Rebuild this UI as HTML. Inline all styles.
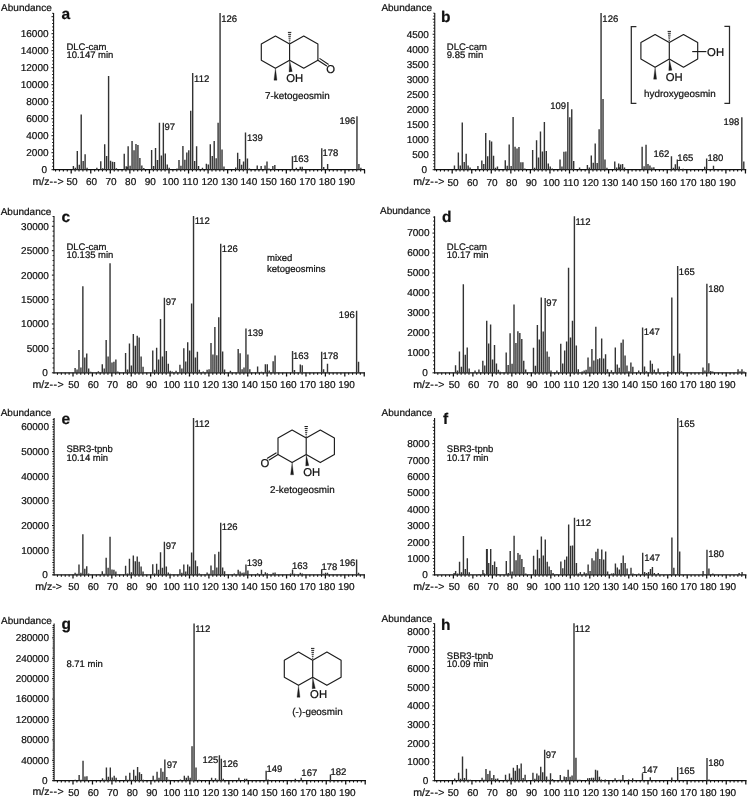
<!DOCTYPE html>
<html><head><meta charset="utf-8"><title>Mass spectra</title>
<style>
html,body{margin:0;padding:0;background:#fff}
svg{display:block}
text{font-family:"Liberation Sans",Arial,Helvetica,sans-serif;fill:#111;stroke:#111;stroke-width:0.22px;text-rendering:geometricPrecision}
.t10{font-size:10px}
.ty{font-size:10px}
.mz{font-size:10.6px}
.t9{font-size:9.5px}
.pk{font-size:9.5px}
.b{font-weight:bold;font-size:15.5px}
.ch{font-size:11.3px}
.nm{font-size:9.85px}
</style></head><body>
<svg width="748" height="799" viewBox="0 0 748 799">
<rect width="748" height="799" fill="#fff"/>
<g id="panel-a">
<path d="M53.6 13V170.3" fill="none" stroke="#111" stroke-width="1.1"/>
<path d="M53.05 169.7H365" fill="none" stroke="#111" stroke-width="1.3"/>
<path d="M52.2 166.3H53.5M52.2 162.9H53.5M52.2 159.5H53.5M52.2 156.1H53.5M52.2 149.3H53.5M52.2 145.9H53.5M52.2 142.5H53.5M52.2 139.1H53.5M52.2 132.3H53.5M52.2 128.9H53.5M52.2 125.5H53.5M52.2 122.1H53.5M52.2 115.3H53.5M52.2 111.9H53.5M52.2 108.5H53.5M52.2 105.1H53.5M52.2 98.3H53.5M52.2 94.9H53.5M52.2 91.5H53.5M52.2 88.1H53.5M52.2 81.3H53.5M52.2 77.9H53.5M52.2 74.5H53.5M52.2 71.1H53.5M52.2 64.3H53.5M52.2 60.9H53.5M52.2 57.5H53.5M52.2 54.1H53.5M52.2 47.3H53.5M52.2 43.9H53.5M52.2 40.5H53.5M52.2 37.1H53.5M52.2 30.3H53.5M52.2 26.9H53.5M52.2 23.5H53.5M52.2 20.1H53.5M52.2 13.3H53.5" stroke="#111" stroke-width="1" fill="none"/>
<path d="M51.5 16.7H53.5" stroke="#111" stroke-width="1" fill="none"/>
<text class="ty" x="47.15" y="173.1" text-anchor="end">0</text>
<text class="ty" x="48.55" y="156.1" text-anchor="end">2000</text>
<text class="ty" x="48.55" y="139.1" text-anchor="end">4000</text>
<text class="ty" x="48.55" y="122.1" text-anchor="end">6000</text>
<text class="ty" x="48.55" y="105.1" text-anchor="end">8000</text>
<text class="ty" x="48.55" y="88.1" text-anchor="end">10000</text>
<text class="ty" x="48.55" y="71.1" text-anchor="end">12000</text>
<text class="ty" x="48.55" y="54.1" text-anchor="end">14000</text>
<text class="ty" x="48.55" y="37.1" text-anchor="end">16000</text>
<path d="M51.5 169.7H53.5M51.5 152.7H53.5M51.5 135.7H53.5M51.5 118.7H53.5M51.5 101.7H53.5M51.5 84.7H53.5M51.5 67.7H53.5M51.5 50.7H53.5M51.5 33.7H53.5" stroke="#111" stroke-width="1" fill="none"/>
<path d="M55.55 169.7v1.9M59.47 169.7v1.9M63.38 169.7v1.9M67.29 169.7v1.9M75.11 169.7v1.9M79.02 169.7v1.9M82.93 169.7v1.9M86.85 169.7v1.9M94.67 169.7v1.9M98.58 169.7v1.9M102.49 169.7v1.9M106.4 169.7v1.9M114.23 169.7v1.9M118.14 169.7v1.9M122.05 169.7v1.9M125.96 169.7v1.9M133.78 169.7v1.9M137.69 169.7v1.9M141.61 169.7v1.9M145.52 169.7v1.9M153.34 169.7v1.9M157.25 169.7v1.9M161.16 169.7v1.9M165.07 169.7v1.9M172.9 169.7v1.9M176.81 169.7v1.9M180.72 169.7v1.9M184.63 169.7v1.9M192.45 169.7v1.9M196.36 169.7v1.9M200.28 169.7v1.9M204.19 169.7v1.9M212.01 169.7v1.9M215.92 169.7v1.9M219.83 169.7v1.9M223.74 169.7v1.9M231.57 169.7v1.9M235.48 169.7v1.9M239.39 169.7v1.9M243.3 169.7v1.9M251.12 169.7v1.9M255.04 169.7v1.9M258.95 169.7v1.9M262.86 169.7v1.9M270.68 169.7v1.9M274.59 169.7v1.9M278.5 169.7v1.9M282.42 169.7v1.9M290.24 169.7v1.9M294.15 169.7v1.9M298.06 169.7v1.9M301.97 169.7v1.9M309.8 169.7v1.9M313.71 169.7v1.9M317.62 169.7v1.9M321.53 169.7v1.9M329.35 169.7v1.9M333.26 169.7v1.9M337.18 169.7v1.9M341.09 169.7v1.9M348.91 169.7v1.9M352.82 169.7v1.9M356.73 169.7v1.9M360.64 169.7v1.9" stroke="#111" stroke-width="1.1" fill="none"/>
<path d="M71.2 169.7v3.7M90.76 169.7v3.7M110.31 169.7v3.7M129.87 169.7v3.7M149.43 169.7v3.7M168.99 169.7v3.7M188.54 169.7v3.7M208.1 169.7v3.7M227.66 169.7v3.7M247.21 169.7v3.7M266.77 169.7v3.7M286.33 169.7v3.7M305.88 169.7v3.7M325.44 169.7v3.7M345 169.7v3.7M364.56 169.7v3.7" stroke="#111" stroke-width="1.25" fill="none"/>
<text class="t10" x="72" y="185" text-anchor="middle">50</text>
<text class="t10" x="91.56" y="185" text-anchor="middle">60</text>
<text class="t10" x="111.11" y="185" text-anchor="middle">70</text>
<text class="t10" x="130.67" y="185" text-anchor="middle">80</text>
<text class="t10" x="150.23" y="185" text-anchor="middle">90</text>
<text class="t10" x="170.69" y="185" text-anchor="middle">100</text>
<text class="t10" x="190.24" y="185" text-anchor="middle">110</text>
<text class="t10" x="209.8" y="185" text-anchor="middle">120</text>
<text class="t10" x="229.36" y="185" text-anchor="middle">130</text>
<text class="t10" x="248.91" y="185" text-anchor="middle">140</text>
<text class="t10" x="268.47" y="185" text-anchor="middle">150</text>
<text class="t10" x="288.03" y="185" text-anchor="middle">160</text>
<text class="t10" x="307.58" y="185" text-anchor="middle">170</text>
<text class="t10" x="327.14" y="185" text-anchor="middle">180</text>
<text class="t10" x="346.7" y="185" text-anchor="middle">190</text>
<text class="mz" x="32.4" y="185">m/z-<tspan dx="0.6">-</tspan><tspan dx="0.3">&gt;</tspan></text>
<text class="t10" x="1.1" y="11.2">Abundance</text>
<text class="b" x="61.6" y="18.9">a</text>
<path d="M73.39 169.7v-3.6M75.35 169.7v-2M77.3 169.7v-18.6M79.26 169.7v-5M81.21 169.7v-55.3M83.17 169.7v-8.7M85.12 169.7v-15.4M87.08 169.7v-2M96.86 169.7v-2M100.77 169.7v-8.5M102.73 169.7v-1.5M104.68 169.7v-25.4M106.64 169.7v-13.6M108.59 169.7v-93.7M110.55 169.7v-9M112.5 169.7v-8M114.46 169.7v-7.6M116.42 169.7v-1.5M124.24 169.7v-15.9M126.19 169.7v-3.5M127.17 169.7v-3M128.15 169.7v-23.4M130.11 169.7v-3.9M132.06 169.7v-28.7M134.02 169.7v-19.4M135.97 169.7v-25.7M137.93 169.7v-24.7M139.88 169.7v-11.6M141.84 169.7v-4.3M143.8 169.7v-1.6M151.62 169.7v-19.7M153.57 169.7v-3.6M155.53 169.7v-21.7M157.49 169.7v-9.6M159.44 169.7v-47M161.4 169.7v-14.3M163.35 169.7v-47M165.31 169.7v-16.3M167.26 169.7v-5.2M169.22 169.7v-2M177.04 169.7v-1.3M179 169.7v-9.6M180.95 169.7v-3.9M182.91 169.7v-23.7M184.87 169.7v-10M186.82 169.7v-17.2M188.78 169.7v-19.4M190.73 169.7v-59M192.69 169.7v-96.6M194.64 169.7v-8.6M196.6 169.7v-23.4M198.56 169.7v-3.6M202.47 169.7v-2M206.38 169.7v-6M208.33 169.7v-5.2M210.29 169.7v-25.4M212.25 169.7v-13.6M214.2 169.7v-28.7M216.16 169.7v-11.4M218.11 169.7v-47M220.07 169.7v-156.7M222.02 169.7v-20.3M223.98 169.7v-3.2M235.71 169.7v-2.2M237.67 169.7v-17M239.62 169.7v-10.7M241.58 169.7v-4.9M243.54 169.7v-8.2M245.49 169.7v-37.3M247.45 169.7v-11.3M249.4 169.7v-1.2M257.23 169.7v-4.2M261.14 169.7v-3.7M265.05 169.7v-4.2M267 169.7v-8.2M268.96 169.7v-1.2M272.87 169.7v-3.7M274.83 169.7v-4.7M292.43 169.7v-13.5M296.34 169.7v-2M300.25 169.7v-3M302.21 169.7v-3M321.76 169.7v-21.4M323.72 169.7v-2.7M327.63 169.7v-5.6M356.97 169.7v-53.5M358.92 169.7v-5.6M360.88 169.7v-2" stroke="#333" stroke-width="1.4" fill="none"/>
<text class="pk" x="221.25" y="22.2">126</text>
<text class="pk" x="194.05" y="81.8">112</text>
<text class="pk" x="164.55" y="130.3">97</text>
<text class="pk" x="246.95" y="140.6">139</text>
<text class="pk" x="293.05" y="162.4">163</text>
<text class="pk" x="322.55" y="156">178</text>
<text class="pk" x="339.45" y="123.9">196</text>
<text class="t9" x="66.4" y="50.2">DLC-cam</text>
<text class="t9" x="66.4" y="58.3">10.147 min</text>
<path d="M289.6 44L275.45 36L261.3 44L261.3 60.2L275.45 68.2L289.6 60.2ZM289.6 44L303.75 36L317.9 44L317.9 60.2L303.75 68.2L289.6 60.2" fill="none" stroke="#1c1c1c" stroke-width="1.15" stroke-linejoin="round" stroke-linecap="round"/>
<path d="M288.98 42.07H290.22M288.77 40.13H290.43M288.55 38.2H290.65M288.33 36.27H290.87M288.12 34.33H291.08M287.9 32.4H291.3" fill="none" stroke="#1c1c1c" stroke-width="1.0"/>
<path d="M275.45 68.2L273.95 80.2H276.95Z" fill="#1c1c1c" stroke="#1c1c1c" stroke-width="0.3"/>
<path d="M289.6 60.2L289.1 71.9L292.2 71.5Z" fill="#1c1c1c" stroke="#1c1c1c" stroke-width="0.3"/>
<text class="ch" x="286.2" y="81.7">OH</text>
<path d="M317.9 60.2L326.43 65.84M319.89 58.64L328.25 64.17" fill="none" stroke="#1c1c1c" stroke-width="1.15" stroke-linecap="round"/><text class="ch" x="330.6" y="72.7" text-anchor="middle">O</text>
<text class="nm" x="265.1" y="98.7">7-ketogeosmin</text>
</g>
<g id="panel-b">
<path d="M434.75 13V170.3" fill="none" stroke="#111" stroke-width="1.1"/>
<path d="M434.2 169.7H746.23" fill="none" stroke="#111" stroke-width="1.3"/>
<path d="M433.35 166.69H434.65M433.35 163.68H434.65M433.35 160.67H434.65M433.35 157.66H434.65M433.35 151.64H434.65M433.35 148.63H434.65M433.35 145.62H434.65M433.35 142.61H434.65M433.35 136.59H434.65M433.35 133.58H434.65M433.35 130.57H434.65M433.35 127.56H434.65M433.35 121.54H434.65M433.35 118.53H434.65M433.35 115.52H434.65M433.35 112.51H434.65M433.35 106.49H434.65M433.35 103.48H434.65M433.35 100.47H434.65M433.35 97.46H434.65M433.35 91.44H434.65M433.35 88.43H434.65M433.35 85.42H434.65M433.35 82.41H434.65M433.35 76.39H434.65M433.35 73.38H434.65M433.35 70.37H434.65M433.35 67.36H434.65M433.35 61.34H434.65M433.35 58.33H434.65M433.35 55.32H434.65M433.35 52.31H434.65M433.35 46.29H434.65M433.35 43.28H434.65M433.35 40.27H434.65M433.35 37.26H434.65M433.35 31.24H434.65M433.35 28.23H434.65M433.35 25.22H434.65M433.35 22.21H434.65M433.35 16.19H434.65M433.35 13.18H434.65" stroke="#111" stroke-width="1" fill="none"/>
<path d="M432.65 19.2H434.65" stroke="#111" stroke-width="1" fill="none"/>
<text class="ty" x="427.05" y="173.1" text-anchor="end">0</text>
<text class="ty" x="428.95" y="158.05" text-anchor="end">500</text>
<text class="ty" x="428.95" y="143" text-anchor="end">1000</text>
<text class="ty" x="428.95" y="127.95" text-anchor="end">1500</text>
<text class="ty" x="428.95" y="112.9" text-anchor="end">2000</text>
<text class="ty" x="428.95" y="97.85" text-anchor="end">2500</text>
<text class="ty" x="428.95" y="82.8" text-anchor="end">3000</text>
<text class="ty" x="428.95" y="67.75" text-anchor="end">3500</text>
<text class="ty" x="428.95" y="52.7" text-anchor="end">4000</text>
<text class="ty" x="428.95" y="37.65" text-anchor="end">4500</text>
<path d="M432.65 169.7H434.65M432.65 154.65H434.65M432.65 139.6H434.65M432.65 124.55H434.65M432.65 109.5H434.65M432.65 94.45H434.65M432.65 79.4H434.65M432.65 64.35H434.65M432.65 49.3H434.65M432.65 34.25H434.65" stroke="#111" stroke-width="1" fill="none"/>
<path d="M436.56 169.7v1.9M440.47 169.7v1.9M444.38 169.7v1.9M448.29 169.7v1.9M456.11 169.7v1.9M460.02 169.7v1.9M463.93 169.7v1.9M467.84 169.7v1.9M475.66 169.7v1.9M479.57 169.7v1.9M483.48 169.7v1.9M487.39 169.7v1.9M495.21 169.7v1.9M499.12 169.7v1.9M503.03 169.7v1.9M506.94 169.7v1.9M514.76 169.7v1.9M518.67 169.7v1.9M522.58 169.7v1.9M526.49 169.7v1.9M534.31 169.7v1.9M538.22 169.7v1.9M542.13 169.7v1.9M546.04 169.7v1.9M553.86 169.7v1.9M557.77 169.7v1.9M561.68 169.7v1.9M565.59 169.7v1.9M573.41 169.7v1.9M577.32 169.7v1.9M581.23 169.7v1.9M585.14 169.7v1.9M592.96 169.7v1.9M596.87 169.7v1.9M600.78 169.7v1.9M604.69 169.7v1.9M612.51 169.7v1.9M616.42 169.7v1.9M620.33 169.7v1.9M624.24 169.7v1.9M632.06 169.7v1.9M635.97 169.7v1.9M639.88 169.7v1.9M643.79 169.7v1.9M651.61 169.7v1.9M655.52 169.7v1.9M659.43 169.7v1.9M663.34 169.7v1.9M671.16 169.7v1.9M675.07 169.7v1.9M678.98 169.7v1.9M682.89 169.7v1.9M690.71 169.7v1.9M694.62 169.7v1.9M698.53 169.7v1.9M702.44 169.7v1.9M710.26 169.7v1.9M714.17 169.7v1.9M718.08 169.7v1.9M721.99 169.7v1.9M729.81 169.7v1.9M733.72 169.7v1.9M737.63 169.7v1.9M741.54 169.7v1.9" stroke="#111" stroke-width="1.1" fill="none"/>
<path d="M452.2 169.7v3.7M471.75 169.7v3.7M491.3 169.7v3.7M510.85 169.7v3.7M530.4 169.7v3.7M549.95 169.7v3.7M569.5 169.7v3.7M589.05 169.7v3.7M608.6 169.7v3.7M628.15 169.7v3.7M647.7 169.7v3.7M667.25 169.7v3.7M686.8 169.7v3.7M706.35 169.7v3.7M725.9 169.7v3.7M745.45 169.7v3.7" stroke="#111" stroke-width="1.25" fill="none"/>
<text class="t10" x="453" y="186" text-anchor="middle">50</text>
<text class="t10" x="472.55" y="186" text-anchor="middle">60</text>
<text class="t10" x="492.1" y="186" text-anchor="middle">70</text>
<text class="t10" x="511.65" y="186" text-anchor="middle">80</text>
<text class="t10" x="531.2" y="186" text-anchor="middle">90</text>
<text class="t10" x="551.45" y="186" text-anchor="middle">100</text>
<text class="t10" x="571" y="186" text-anchor="middle">110</text>
<text class="t10" x="590.55" y="186" text-anchor="middle">120</text>
<text class="t10" x="610.1" y="186" text-anchor="middle">130</text>
<text class="t10" x="629.65" y="186" text-anchor="middle">140</text>
<text class="t10" x="649.2" y="186" text-anchor="middle">150</text>
<text class="t10" x="668.75" y="186" text-anchor="middle">160</text>
<text class="t10" x="688.3" y="186" text-anchor="middle">170</text>
<text class="t10" x="707.85" y="186" text-anchor="middle">180</text>
<text class="t10" x="727.4" y="186" text-anchor="middle">190</text>
<text class="mz" x="413.2" y="185">m/z-<tspan dx="0.6">-</tspan><tspan dx="0.3">&gt;</tspan></text>
<text class="t10" x="381.4" y="11.2">Abundance</text>
<text class="b" x="440.9" y="22.1">b</text>
<path d="M454.45 169.7v-4.3M458.36 169.7v-17.1M460.31 169.7v-4.3M462.27 169.7v-47.1M464.22 169.7v-7.8M466.18 169.7v-16M468.13 169.7v-4.3M470.09 169.7v-2.2M477.91 169.7v-3.7M481.82 169.7v-9.1M483.77 169.7v-5.6M485.73 169.7v-36.8M487.68 169.7v-13.4M489.64 169.7v-29.4M491.59 169.7v-28.2M493.55 169.7v-14M495.5 169.7v-2M497.46 169.7v-3.1M505.28 169.7v-9.4M507.23 169.7v-3.9M509.19 169.7v-25.3M511.14 169.7v-3.6M513.1 169.7v-52.8M515.05 169.7v-23M517.01 169.7v-21.3M518.96 169.7v-22.6M520.92 169.7v-7.4M522.87 169.7v-7.4M524.83 169.7v-1.2M532.65 169.7v-19.7M534.6 169.7v-2M536.56 169.7v-29.4M538.51 169.7v-12.3M540.47 169.7v-38.1M542.42 169.7v-18.3M544.38 169.7v-47.7M546.33 169.7v-18.7M548.29 169.7v-6.3M550.24 169.7v-3.2M552.2 169.7v-1.3M560.02 169.7v-10.3M561.97 169.7v-3.2M563.93 169.7v-17.9M565.88 169.7v-18.3M567.84 169.7v-67.8M569.79 169.7v-52.4M571.75 169.7v-60.4M573.7 169.7v-8.6M579.57 169.7v-2.3M587.39 169.7v-4.7M589.34 169.7v-2.3M591.3 169.7v-14.3M593.25 169.7v-7M595.21 169.7v-26.3M597.16 169.7v-6.7M599.12 169.7v-40.4M601.07 169.7v-156.7M603.03 169.7v-70.7M604.98 169.7v-10.3M606.94 169.7v-2M614.76 169.7v-8.3M616.71 169.7v-2.3M618.67 169.7v-6.3M619.84 169.7v-2.5M620.62 169.7v-5.2M622.58 169.7v-5.6M624.53 169.7v-2.3M642.13 169.7v-23M644.08 169.7v-3.5M646.04 169.7v-25M647.99 169.7v-5.6M649.95 169.7v-4.3M651.9 169.7v-2.3M653.86 169.7v-2.5M671.45 169.7v-13.5M673.41 169.7v-2M675.36 169.7v-5.5M677.32 169.7v-10.3M679.27 169.7v-3.1M683.18 169.7v-1M704.69 169.7v-3M706.64 169.7v-11.1M713.49 169.7v-4M741.83 169.7v-52.4M743.79 169.7v-8.3" stroke="#333" stroke-width="1.4" fill="none"/>
<text class="pk" x="602.35" y="22.2">126</text>
<text class="pk" x="550.25" y="109.3">109</text>
<text class="pk" x="653.45" y="157">162</text>
<text class="pk" x="677.35" y="161.1">165</text>
<text class="pk" x="707.45" y="161.1">180</text>
<text class="pk" x="723.55" y="124.6">198</text>
<text class="t9" x="446.8" y="50.1">DLC-cam</text>
<text class="t9" x="446.8" y="58.3">9.85 min</text>
<path d="M669.3 42.6L655.1 34.5L640.9 42.6L640.9 59.1L655.1 67.2L669.3 59.1ZM669.3 42.6L683.5 34.5L697.7 42.6L697.7 59.1L683.5 67.2L669.3 59.1" fill="none" stroke="#1c1c1c" stroke-width="1.15" stroke-linejoin="round" stroke-linecap="round"/>
<path d="M668.68 40.73H669.92M668.47 38.87H670.13M668.25 37H670.35M668.03 35.13H670.57M667.82 33.27H670.78M667.6 31.4H671" fill="none" stroke="#1c1c1c" stroke-width="1.0"/>
<path d="M655.1 67.2L653.6 79.2H656.6Z" fill="#1c1c1c" stroke="#1c1c1c" stroke-width="0.3"/>
<path d="M669.3 59.1L668.8 70.6L671.9 70.2Z" fill="#1c1c1c" stroke="#1c1c1c" stroke-width="0.3"/>
<text class="ch" x="665.7" y="80.8">OH</text>
<path d="M692.2 51.6H706.4" fill="none" stroke="#1c1c1c" stroke-width="1.15"/><text class="ch" x="707.1" y="55.9">OH</text><path d="M636.4 26.5H631.3V103.3H636.4M724.4 26.3H729.5V103.3H724.4" fill="none" stroke="#2a2a2a" stroke-width="1.25"/>
<text class="nm" x="644.1" y="96.8">hydroxygeosmin</text>
</g>
<g id="panel-c">
<path d="M54 216V373.4" fill="none" stroke="#111" stroke-width="1.1"/>
<path d="M53.45 372.8H365" fill="none" stroke="#111" stroke-width="1.3"/>
<path d="M52.6 367.92H53.9M52.6 363.03H53.9M52.6 358.15H53.9M52.6 353.26H53.9M52.6 343.5H53.9M52.6 338.61H53.9M52.6 333.73H53.9M52.6 328.84H53.9M52.6 319.08H53.9M52.6 314.19H53.9M52.6 309.31H53.9M52.6 304.42H53.9M52.6 294.66H53.9M52.6 289.77H53.9M52.6 284.89H53.9M52.6 280H53.9M52.6 270.24H53.9M52.6 265.35H53.9M52.6 260.47H53.9M52.6 255.58H53.9M52.6 245.82H53.9M52.6 240.93H53.9M52.6 236.05H53.9M52.6 231.16H53.9M52.6 221.4H53.9M52.6 216.51H53.9" stroke="#111" stroke-width="1" fill="none"/>
<text class="ty" x="47.9" y="376.2" text-anchor="end">0</text>
<text class="ty" x="48.9" y="351.78" text-anchor="end">5000</text>
<text class="ty" x="48.9" y="327.36" text-anchor="end">10000</text>
<text class="ty" x="48.9" y="302.94" text-anchor="end">15000</text>
<text class="ty" x="48.9" y="278.52" text-anchor="end">20000</text>
<text class="ty" x="48.9" y="254.1" text-anchor="end">25000</text>
<text class="ty" x="48.9" y="229.68" text-anchor="end">30000</text>
<path d="M51.9 372.8H53.9M51.9 348.38H53.9M51.9 323.96H53.9M51.9 299.54H53.9M51.9 275.12H53.9M51.9 250.7H53.9M51.9 226.28H53.9" stroke="#111" stroke-width="1" fill="none"/>
<path d="M57.47 372.8v1.9M61.35 372.8v1.9M65.23 372.8v1.9M69.12 372.8v1.9M76.88 372.8v1.9M80.77 372.8v1.9M84.65 372.8v1.9M88.53 372.8v1.9M96.3 372.8v1.9M100.18 372.8v1.9M104.06 372.8v1.9M107.95 372.8v1.9M115.71 372.8v1.9M119.6 372.8v1.9M123.48 372.8v1.9M127.36 372.8v1.9M135.13 372.8v1.9M139.01 372.8v1.9M142.89 372.8v1.9M146.78 372.8v1.9M154.54 372.8v1.9M158.43 372.8v1.9M162.31 372.8v1.9M166.19 372.8v1.9M173.96 372.8v1.9M177.84 372.8v1.9M181.72 372.8v1.9M185.61 372.8v1.9M193.37 372.8v1.9M197.26 372.8v1.9M201.14 372.8v1.9M205.02 372.8v1.9M212.79 372.8v1.9M216.67 372.8v1.9M220.55 372.8v1.9M224.44 372.8v1.9M232.2 372.8v1.9M236.09 372.8v1.9M239.97 372.8v1.9M243.85 372.8v1.9M251.62 372.8v1.9M255.5 372.8v1.9M259.38 372.8v1.9M263.27 372.8v1.9M271.03 372.8v1.9M274.92 372.8v1.9M278.8 372.8v1.9M282.68 372.8v1.9M290.45 372.8v1.9M294.33 372.8v1.9M298.21 372.8v1.9M302.1 372.8v1.9M309.86 372.8v1.9M313.75 372.8v1.9M317.63 372.8v1.9M321.51 372.8v1.9M329.28 372.8v1.9M333.16 372.8v1.9M337.04 372.8v1.9M340.93 372.8v1.9M348.69 372.8v1.9M352.58 372.8v1.9M356.46 372.8v1.9M360.34 372.8v1.9" stroke="#111" stroke-width="1.1" fill="none"/>
<path d="M73 372.8v3.7M92.41 372.8v3.7M111.83 372.8v3.7M131.25 372.8v3.7M150.66 372.8v3.7M170.07 372.8v3.7M189.49 372.8v3.7M208.91 372.8v3.7M228.32 372.8v3.7M247.74 372.8v3.7M267.15 372.8v3.7M286.56 372.8v3.7M305.98 372.8v3.7M325.39 372.8v3.7M344.81 372.8v3.7M364.23 372.8v3.7" stroke="#111" stroke-width="1.25" fill="none"/>
<text class="t10" x="73.8" y="388" text-anchor="middle">50</text>
<text class="t10" x="93.21" y="388" text-anchor="middle">60</text>
<text class="t10" x="112.63" y="388" text-anchor="middle">70</text>
<text class="t10" x="132.05" y="388" text-anchor="middle">80</text>
<text class="t10" x="151.46" y="388" text-anchor="middle">90</text>
<text class="t10" x="171.82" y="388" text-anchor="middle">100</text>
<text class="t10" x="191.24" y="388" text-anchor="middle">110</text>
<text class="t10" x="210.66" y="388" text-anchor="middle">120</text>
<text class="t10" x="230.07" y="388" text-anchor="middle">130</text>
<text class="t10" x="249.49" y="388" text-anchor="middle">140</text>
<text class="t10" x="268.9" y="388" text-anchor="middle">150</text>
<text class="t10" x="288.31" y="388" text-anchor="middle">160</text>
<text class="t10" x="307.73" y="388" text-anchor="middle">170</text>
<text class="t10" x="327.14" y="388" text-anchor="middle">180</text>
<text class="t10" x="346.56" y="388" text-anchor="middle">190</text>
<text class="mz" x="32.4" y="388">m/z-<tspan dx="0.6">-</tspan><tspan dx="0.3">&gt;</tspan></text>
<text class="t10" x="0.7" y="214.5">Abundance</text>
<text class="b" x="61.6" y="222.2">c</text>
<path d="M75.1 372.8v-4.9M77.04 372.8v-3.2M78.98 372.8v-22.7M80.92 372.8v-5.2M82.86 372.8v-86.5M84.8 372.8v-15.4M86.75 372.8v-19.4M88.69 372.8v-4.3M90.63 372.8v-1M98.39 372.8v-1.6M102.28 372.8v-8.6M104.22 372.8v-4.3M106.16 372.8v-32.8M108.1 372.8v-16.3M110.04 372.8v-109.5M111.99 372.8v-10.3M113.93 372.8v-11M115.87 372.8v-13.2M117.81 372.8v-1.2M125.58 372.8v-19.9M127.52 372.8v-3.3M129.46 372.8v-29.4M131.4 372.8v-7.4M133.34 372.8v-38.8M135.28 372.8v-27M137.22 372.8v-37M139.17 372.8v-35.3M141.11 372.8v-16.3M143.05 372.8v-6.1M152.76 372.8v-22.3M154.7 372.8v-3M156.64 372.8v-25M158.58 372.8v-13.2M160.52 372.8v-53.7M162.46 372.8v-16.3M164.41 372.8v-75.1M166.35 372.8v-21.7M168.29 372.8v-9M170.23 372.8v-2M172.17 372.8v-1.3M176.05 372.8v-2M179.94 372.8v-8M181.88 372.8v-4.3M183.82 372.8v-24.6M185.76 372.8v-11.4M187.7 372.8v-30.6M189.65 372.8v-22.3M191.59 372.8v-69.4M193.53 372.8v-156.8M195.47 372.8v-15.4M197.41 372.8v-21M199.35 372.8v-3M203.24 372.8v-1.3M207.12 372.8v-3M209.06 372.8v-3.6M211 372.8v-29.7M212.94 372.8v-18.3M214.88 372.8v-45.7M216.83 372.8v-17.6M218.77 372.8v-55.5M220.71 372.8v-129M222.65 372.8v-21.3M224.59 372.8v-3.2M230.42 372.8v-2M238.18 372.8v-23.7M240.12 372.8v-19.5M242.07 372.8v-3.6M244.01 372.8v-5.2M245.95 372.8v-44.4M247.89 372.8v-18.3M249.83 372.8v-3.6M257.6 372.8v-6.3M261.48 372.8v-1M265.36 372.8v-8.6M267.31 372.8v-8.6M269.25 372.8v-2.3M273.13 372.8v-11.6M275.07 372.8v-17.3M292.54 372.8v-21.7M294.49 372.8v-2.8M300.31 372.8v-8.3M302.25 372.8v-7.6M321.67 372.8v-21M323.61 372.8v-3.6M327.49 372.8v-9M356.61 372.8v-62M358.56 372.8v-11" stroke="#333" stroke-width="1.4" fill="none"/>
<text class="pk" x="194.65" y="224">112</text>
<text class="pk" x="221.85" y="252.3">126</text>
<text class="pk" x="165.65" y="305">97</text>
<text class="pk" x="247.45" y="335.7">139</text>
<text class="pk" x="293.05" y="359.3">163</text>
<text class="pk" x="322.55" y="359.3">178</text>
<text class="pk" x="338.85" y="318.1">196</text>
<text class="t9" x="66.4" y="250">DLC-cam</text>
<text class="t9" x="66.4" y="258.3">10.135 min</text>
<text class="t9" x="267" y="261">mixed</text>
<text class="t9" x="267" y="271.7">ketogeosmins</text>
</g>
<g id="panel-d">
<path d="M434.6 216.2V373.4" fill="none" stroke="#111" stroke-width="1.1"/>
<path d="M434.05 372.8H746.44" fill="none" stroke="#111" stroke-width="1.3"/>
<path d="M433.2 368.81H434.5M433.2 364.82H434.5M433.2 360.82H434.5M433.2 356.83H434.5M433.2 348.85H434.5M433.2 344.86H434.5M433.2 340.86H434.5M433.2 336.87H434.5M433.2 328.89H434.5M433.2 324.9H434.5M433.2 320.9H434.5M433.2 316.91H434.5M433.2 308.93H434.5M433.2 304.94H434.5M433.2 300.94H434.5M433.2 296.95H434.5M433.2 288.97H434.5M433.2 284.98H434.5M433.2 280.98H434.5M433.2 276.99H434.5M433.2 269.01H434.5M433.2 265.02H434.5M433.2 261.02H434.5M433.2 257.03H434.5M433.2 249.05H434.5M433.2 245.06H434.5M433.2 241.06H434.5M433.2 237.07H434.5M433.2 229.09H434.5M433.2 225.1H434.5M433.2 221.1H434.5M433.2 217.11H434.5" stroke="#111" stroke-width="1" fill="none"/>
<text class="ty" x="427.8" y="376.2" text-anchor="end">0</text>
<text class="ty" x="429.5" y="356.24" text-anchor="end">1000</text>
<text class="ty" x="429.5" y="336.28" text-anchor="end">2000</text>
<text class="ty" x="429.5" y="316.32" text-anchor="end">3000</text>
<text class="ty" x="429.5" y="296.36" text-anchor="end">4000</text>
<text class="ty" x="429.5" y="276.4" text-anchor="end">5000</text>
<text class="ty" x="429.5" y="256.44" text-anchor="end">6000</text>
<text class="ty" x="429.5" y="236.48" text-anchor="end">7000</text>
<path d="M432.5 372.8H434.5M432.5 352.84H434.5M432.5 332.88H434.5M432.5 312.92H434.5M432.5 292.96H434.5M432.5 273H434.5M432.5 253.04H434.5M432.5 233.08H434.5" stroke="#111" stroke-width="1" fill="none"/>
<path d="M437.81 372.8v1.9M441.71 372.8v1.9M445.61 372.8v1.9M449.5 372.8v1.9M457.3 372.8v1.9M461.19 372.8v1.9M465.09 372.8v1.9M468.99 372.8v1.9M476.78 372.8v1.9M480.68 372.8v1.9M484.57 372.8v1.9M488.47 372.8v1.9M496.26 372.8v1.9M500.16 372.8v1.9M504.06 372.8v1.9M507.96 372.8v1.9M515.75 372.8v1.9M519.65 372.8v1.9M523.54 372.8v1.9M527.44 372.8v1.9M535.23 372.8v1.9M539.13 372.8v1.9M543.03 372.8v1.9M546.92 372.8v1.9M554.72 372.8v1.9M558.61 372.8v1.9M562.51 372.8v1.9M566.41 372.8v1.9M574.2 372.8v1.9M578.1 372.8v1.9M581.99 372.8v1.9M585.89 372.8v1.9M593.68 372.8v1.9M597.58 372.8v1.9M601.48 372.8v1.9M605.38 372.8v1.9M613.17 372.8v1.9M617.07 372.8v1.9M620.96 372.8v1.9M624.86 372.8v1.9M632.65 372.8v1.9M636.55 372.8v1.9M640.45 372.8v1.9M644.34 372.8v1.9M652.14 372.8v1.9M656.03 372.8v1.9M659.93 372.8v1.9M663.83 372.8v1.9M671.62 372.8v1.9M675.52 372.8v1.9M679.41 372.8v1.9M683.31 372.8v1.9M691.1 372.8v1.9M695 372.8v1.9M698.9 372.8v1.9M702.8 372.8v1.9M710.59 372.8v1.9M714.49 372.8v1.9M718.38 372.8v1.9M722.28 372.8v1.9M730.07 372.8v1.9M733.97 372.8v1.9M737.87 372.8v1.9M741.76 372.8v1.9" stroke="#111" stroke-width="1.1" fill="none"/>
<path d="M453.4 372.8v3.7M472.88 372.8v3.7M492.37 372.8v3.7M511.85 372.8v3.7M531.34 372.8v3.7M550.82 372.8v3.7M570.3 372.8v3.7M589.79 372.8v3.7M609.27 372.8v3.7M628.76 372.8v3.7M648.24 372.8v3.7M667.72 372.8v3.7M687.21 372.8v3.7M706.69 372.8v3.7M726.18 372.8v3.7M745.66 372.8v3.7" stroke="#111" stroke-width="1.25" fill="none"/>
<text class="t10" x="454.2" y="388" text-anchor="middle">50</text>
<text class="t10" x="473.68" y="388" text-anchor="middle">60</text>
<text class="t10" x="493.17" y="388" text-anchor="middle">70</text>
<text class="t10" x="512.65" y="388" text-anchor="middle">80</text>
<text class="t10" x="532.14" y="388" text-anchor="middle">90</text>
<text class="t10" x="551.82" y="388" text-anchor="middle">100</text>
<text class="t10" x="571.3" y="388" text-anchor="middle">110</text>
<text class="t10" x="590.79" y="388" text-anchor="middle">120</text>
<text class="t10" x="610.27" y="388" text-anchor="middle">130</text>
<text class="t10" x="629.76" y="388" text-anchor="middle">140</text>
<text class="t10" x="649.24" y="388" text-anchor="middle">150</text>
<text class="t10" x="668.72" y="388" text-anchor="middle">160</text>
<text class="t10" x="688.21" y="388" text-anchor="middle">170</text>
<text class="t10" x="707.69" y="388" text-anchor="middle">180</text>
<text class="t10" x="727.18" y="388" text-anchor="middle">190</text>
<text class="mz" x="413.2" y="388">m/z-<tspan dx="0.6">-</tspan><tspan dx="0.3">&gt;</tspan></text>
<text class="t10" x="380" y="214.3">Abundance</text>
<text class="b" x="441.9" y="222.2">d</text>
<path d="M455.54 372.8v-7.6M457.49 372.8v-2.3M459.44 372.8v-21.3M461.39 372.8v-6M463.34 372.8v-88.5M465.29 372.8v-18M467.23 372.8v-25.3M469.18 372.8v-4.3M475.03 372.8v-2.3M478.92 372.8v-3.2M482.82 372.8v-12M484.77 372.8v-7.2M486.72 372.8v-52.1M488.67 372.8v-29.3M490.61 372.8v-48.4M492.56 372.8v-13.2M494.51 372.8v-27.7M496.46 372.8v-9.2M498.41 372.8v-3M500.36 372.8v-1M506.2 372.8v-20.3M508.15 372.8v-7.9M510.1 372.8v-39.5M512.05 372.8v-9M514 372.8v-68.3M515.94 372.8v-29.7M517.89 372.8v-41.5M519.84 372.8v-39.8M521.79 372.8v-33.7M523.74 372.8v-12M525.69 372.8v-3.2M533.48 372.8v-25M535.43 372.8v-7M537.38 372.8v-47.7M539.32 372.8v-33.3M541.27 372.8v-75.4M543.22 372.8v-41.3M545.17 372.8v-74.7M547.12 372.8v-21.4M549.07 372.8v-16M551.01 372.8v-2.3M556.86 372.8v-2.3M560.76 372.8v-29M562.71 372.8v-9.4M564.65 372.8v-22.3M566.6 372.8v-31.4M568.55 372.8v-105M570.5 372.8v-35.3M572.45 372.8v-52M574.4 372.8v-156.6M576.34 372.8v-27.4M578.29 372.8v-3.6M582.19 372.8v-1.3M584.14 372.8v-2.3M586.09 372.8v-3M588.03 372.8v-15.4M589.98 372.8v-6M591.93 372.8v-23.7M593.88 372.8v-12.3M595.83 372.8v-46M597.78 372.8v-13.6M599.72 372.8v-14.6M601.67 372.8v-34.4M603.62 372.8v-14.3M605.57 372.8v-18.6M607.52 372.8v-3.6M611.42 372.8v-2.5M615.31 372.8v-25.4M617.26 372.8v-8.3M619.21 372.8v-5M621.16 372.8v-30M623.11 372.8v-33.4M625.05 372.8v-17.4M627 372.8v-7.2M628.95 372.8v-1.5M630.9 372.8v-10.3M632.85 372.8v-6M638.69 372.8v-2.3M642.59 372.8v-45.3M644.54 372.8v-6.3M646.49 372.8v-1.6M650.38 372.8v-12.3M652.33 372.8v-9.1M654.28 372.8v-3.1M658.18 372.8v-4.4M667.92 372.8v-1.6M671.82 372.8v-75.2M673.76 372.8v-17.1M677.66 372.8v-106.7M679.61 372.8v-19.2M681.56 372.8v-1.6M702.99 372.8v-5.3M704.94 372.8v-2.3M706.89 372.8v-89M708.84 372.8v-9.6M710.78 372.8v-1.9M712.73 372.8v-1.2M738.06 372.8v-3.6M740.01 372.8v-1.6M741.96 372.8v-3.6M743.91 372.8v-1.2" stroke="#333" stroke-width="1.4" fill="none"/>
<text class="pk" x="575.45" y="224.7">112</text>
<text class="pk" x="546.35" y="305.6">97</text>
<text class="pk" x="643.85" y="335.1">147</text>
<text class="pk" x="678.85" y="274.6">165</text>
<text class="pk" x="708.25" y="291.6">180</text>
<text class="t9" x="446.8" y="250">DLC-cam</text>
<text class="t9" x="446.8" y="258.3">10.17 min</text>
</g>
<g id="panel-e">
<path d="M54.1 418V575.45" fill="none" stroke="#111" stroke-width="1.1"/>
<path d="M53.55 574.85H365" fill="none" stroke="#111" stroke-width="1.3"/>
<path d="M52.7 572.38H54M52.7 569.92H54M52.7 567.45H54M52.7 564.99H54M52.7 560.06H54M52.7 557.59H54M52.7 555.13H54M52.7 552.66H54M52.7 547.73H54M52.7 545.27H54M52.7 542.8H54M52.7 540.34H54M52.7 535.41H54M52.7 532.94H54M52.7 530.48H54M52.7 528.01H54M52.7 523.08H54M52.7 520.62H54M52.7 518.15H54M52.7 515.69H54M52.7 510.76H54M52.7 508.29H54M52.7 505.83H54M52.7 503.36H54M52.7 498.43H54M52.7 495.97H54M52.7 493.5H54M52.7 491.04H54M52.7 486.11H54M52.7 483.64H54M52.7 481.18H54M52.7 478.71H54M52.7 473.78H54M52.7 471.32H54M52.7 468.85H54M52.7 466.39H54M52.7 461.46H54M52.7 458.99H54M52.7 456.53H54M52.7 454.06H54M52.7 449.13H54M52.7 446.67H54M52.7 444.2H54M52.7 441.74H54M52.7 436.81H54M52.7 434.35H54M52.7 431.88H54M52.7 429.42H54M52.7 424.49H54M52.7 422.02H54M52.7 419.56H54" stroke="#111" stroke-width="1" fill="none"/>
<path d="M52.3 562.52H54M52.3 537.87H54M52.3 513.22H54M52.3 488.57H54M52.3 463.92H54M52.3 439.27H54" stroke="#111" stroke-width="1" fill="none"/>
<text class="ty" x="47.7" y="578.25" text-anchor="end">0</text>
<text class="ty" x="49" y="553.6" text-anchor="end">10000</text>
<text class="ty" x="49" y="528.95" text-anchor="end">20000</text>
<text class="ty" x="49" y="504.3" text-anchor="end">30000</text>
<text class="ty" x="49" y="479.65" text-anchor="end">40000</text>
<text class="ty" x="49" y="455" text-anchor="end">50000</text>
<text class="ty" x="49" y="430.35" text-anchor="end">60000</text>
<path d="M52 574.85H54M52 550.2H54M52 525.55H54M52 500.9H54M52 476.25H54M52 451.6H54M52 426.95H54" stroke="#111" stroke-width="1" fill="none"/>
<path d="M57.47 574.85v1.9M61.35 574.85v1.9M65.23 574.85v1.9M69.12 574.85v1.9M76.88 574.85v1.9M80.77 574.85v1.9M84.65 574.85v1.9M88.53 574.85v1.9M96.3 574.85v1.9M100.18 574.85v1.9M104.06 574.85v1.9M107.95 574.85v1.9M115.71 574.85v1.9M119.6 574.85v1.9M123.48 574.85v1.9M127.36 574.85v1.9M135.13 574.85v1.9M139.01 574.85v1.9M142.89 574.85v1.9M146.78 574.85v1.9M154.54 574.85v1.9M158.43 574.85v1.9M162.31 574.85v1.9M166.19 574.85v1.9M173.96 574.85v1.9M177.84 574.85v1.9M181.72 574.85v1.9M185.61 574.85v1.9M193.37 574.85v1.9M197.26 574.85v1.9M201.14 574.85v1.9M205.02 574.85v1.9M212.79 574.85v1.9M216.67 574.85v1.9M220.55 574.85v1.9M224.44 574.85v1.9M232.2 574.85v1.9M236.09 574.85v1.9M239.97 574.85v1.9M243.85 574.85v1.9M251.62 574.85v1.9M255.5 574.85v1.9M259.38 574.85v1.9M263.27 574.85v1.9M271.03 574.85v1.9M274.92 574.85v1.9M278.8 574.85v1.9M282.68 574.85v1.9M290.45 574.85v1.9M294.33 574.85v1.9M298.21 574.85v1.9M302.1 574.85v1.9M309.86 574.85v1.9M313.75 574.85v1.9M317.63 574.85v1.9M321.51 574.85v1.9M329.28 574.85v1.9M333.16 574.85v1.9M337.04 574.85v1.9M340.93 574.85v1.9M348.69 574.85v1.9M352.58 574.85v1.9M356.46 574.85v1.9M360.34 574.85v1.9" stroke="#111" stroke-width="1.1" fill="none"/>
<path d="M73 574.85v3.7M92.41 574.85v3.7M111.83 574.85v3.7M131.25 574.85v3.7M150.66 574.85v3.7M170.07 574.85v3.7M189.49 574.85v3.7M208.91 574.85v3.7M228.32 574.85v3.7M247.74 574.85v3.7M267.15 574.85v3.7M286.56 574.85v3.7M305.98 574.85v3.7M325.39 574.85v3.7M344.81 574.85v3.7M364.23 574.85v3.7" stroke="#111" stroke-width="1.25" fill="none"/>
<text class="t10" x="73.8" y="590" text-anchor="middle">50</text>
<text class="t10" x="93.21" y="590" text-anchor="middle">60</text>
<text class="t10" x="112.63" y="590" text-anchor="middle">70</text>
<text class="t10" x="132.05" y="590" text-anchor="middle">80</text>
<text class="t10" x="151.46" y="590" text-anchor="middle">90</text>
<text class="t10" x="171.57" y="590" text-anchor="middle">100</text>
<text class="t10" x="190.99" y="590" text-anchor="middle">110</text>
<text class="t10" x="210.41" y="590" text-anchor="middle">120</text>
<text class="t10" x="229.82" y="590" text-anchor="middle">130</text>
<text class="t10" x="249.24" y="590" text-anchor="middle">140</text>
<text class="t10" x="268.65" y="590" text-anchor="middle">150</text>
<text class="t10" x="288.06" y="590" text-anchor="middle">160</text>
<text class="t10" x="307.48" y="590" text-anchor="middle">170</text>
<text class="t10" x="326.89" y="590" text-anchor="middle">180</text>
<text class="t10" x="346.31" y="590" text-anchor="middle">190</text>
<text class="mz" x="35.2" y="590">m/z-&gt;</text>
<text class="t10" x="0.7" y="416.3">Abundance</text>
<text class="b" x="61.6" y="423.9">e</text>
<path d="M75.1 574.85v-2M77.04 574.85v-1M78.98 574.85v-10.3M80.92 574.85v-2M82.86 574.85v-40.5M84.8 574.85v-6M86.75 574.85v-8.7M88.69 574.85v-1.3M98.39 574.85v-0.8M102.28 574.85v-3.7M104.22 574.85v-1M106.16 574.85v-17M108.1 574.85v-7.1M110.04 574.85v-38.1M111.99 574.85v-5.3M113.93 574.85v-5M115.87 574.85v-3.3M125.58 574.85v-9M127.52 574.85v-1.3M129.46 574.85v-16M131.4 574.85v-2.7M133.34 574.85v-19.4M135.28 574.85v-13.6M137.22 574.85v-18.4M139.17 574.85v-13.1M141.11 574.85v-8.3M143.05 574.85v-3.3M152.76 574.85v-10.7M154.7 574.85v-1.3M156.64 574.85v-11.1M158.58 574.85v-5M160.52 574.85v-22.5M162.46 574.85v-7.1M164.41 574.85v-33.2M166.35 574.85v-8.3M168.29 574.85v-2.3M170.23 574.85v-1M179.94 574.85v-5.7M181.88 574.85v-2M183.82 574.85v-10.3M185.76 574.85v-3.3M187.7 574.85v-10.3M189.65 574.85v-8.3M191.59 574.85v-22.3M193.53 574.85v-156.85M195.47 574.85v-14.3M197.41 574.85v-8.7M199.35 574.85v-1.3M207.12 574.85v-2.3M209.06 574.85v-1M211 574.85v-9.4M212.94 574.85v-4.7M214.88 574.85v-20.5M216.83 574.85v-7.4M218.77 574.85v-23.1M220.71 574.85v-52.1M222.65 574.85v-7.4M224.59 574.85v-3.6M234.3 574.85v-1.3M238.18 574.85v-5M240.12 574.85v-3.3M242.07 574.85v-2M244.01 574.85v-2.3M245.95 574.85v-10.4M247.89 574.85v-4.4M257.6 574.85v-1.6M261.48 574.85v-5M265.36 574.85v-2.7M267.31 574.85v-1.7M273.13 574.85v-2M275.07 574.85v-2.3M290.6 574.85v-1.3M292.54 574.85v-5.3M294.49 574.85v-1M300.31 574.85v-2M302.25 574.85v-1.3M321.67 574.85v-5.6M323.61 574.85v-1M325.55 574.85v-2M327.49 574.85v-2M356.61 574.85v-15.4M358.56 574.85v-2" stroke="#333" stroke-width="1.4" fill="none"/>
<text class="pk" x="194.45" y="426.6">112</text>
<text class="pk" x="221.65" y="530.2">126</text>
<text class="pk" x="165.65" y="549.4">97</text>
<text class="pk" x="246.75" y="566.1">139</text>
<text class="pk" x="292.05" y="569.2">163</text>
<text class="pk" x="321.45" y="570">178</text>
<text class="pk" x="339.45" y="566.3">196</text>
<text class="t9" x="66.4" y="451.7">SBR3-tpnb</text>
<text class="t9" x="66.4" y="460.9">10.14 min</text>
<path d="M306.2 438.1L292.1 430.1L278 438.1L278 454.6L292.1 462.6L306.2 454.6ZM306.2 438.1L320.3 430.1L334.4 438.1L334.4 454.6L320.3 462.6L306.2 454.6" fill="none" stroke="#1c1c1c" stroke-width="1.15" stroke-linejoin="round" stroke-linecap="round"/>
<path d="M305.58 436.17H306.82M305.37 434.23H307.03M305.15 432.3H307.25M304.93 430.37H307.47M304.72 428.43H307.68M304.5 426.5H307.9" fill="none" stroke="#1c1c1c" stroke-width="1.0"/>
<path d="M292.1 462.6L290.6 474.8H293.6Z" fill="#1c1c1c" stroke="#1c1c1c" stroke-width="0.3"/>
<path d="M306.2 454.6L305.7 465.9L308.8 465.5Z" fill="#1c1c1c" stroke="#1c1c1c" stroke-width="0.3"/>
<text class="ch" x="303.3" y="476.1">OH</text>
<path d="M278 454.6L269.17 459.99M276.07 452.97L267.4 458.26" fill="none" stroke="#1c1c1c" stroke-width="1.15" stroke-linecap="round"/><text class="ch" x="264.9" y="466.7" text-anchor="middle">O</text>
<text class="nm" x="270.1" y="493.1">2-ketogeosmin</text>
</g>
<g id="panel-f">
<path d="M434.6 418V575.5" fill="none" stroke="#111" stroke-width="1.1"/>
<path d="M434.05 574.9H746.44" fill="none" stroke="#111" stroke-width="1.3"/>
<path d="M433.2 571.62H434.5M433.2 568.34H434.5M433.2 565.06H434.5M433.2 561.78H434.5M433.2 555.22H434.5M433.2 551.94H434.5M433.2 548.66H434.5M433.2 545.38H434.5M433.2 538.82H434.5M433.2 535.54H434.5M433.2 532.26H434.5M433.2 528.98H434.5M433.2 522.42H434.5M433.2 519.14H434.5M433.2 515.86H434.5M433.2 512.58H434.5M433.2 506.02H434.5M433.2 502.74H434.5M433.2 499.46H434.5M433.2 496.18H434.5M433.2 489.62H434.5M433.2 486.34H434.5M433.2 483.06H434.5M433.2 479.78H434.5M433.2 473.22H434.5M433.2 469.94H434.5M433.2 466.66H434.5M433.2 463.38H434.5M433.2 456.82H434.5M433.2 453.54H434.5M433.2 450.26H434.5M433.2 446.98H434.5M433.2 440.42H434.5M433.2 437.14H434.5M433.2 433.86H434.5M433.2 430.58H434.5M433.2 424.02H434.5M433.2 420.74H434.5" stroke="#111" stroke-width="1" fill="none"/>
<path d="M432.5 427.3H434.5" stroke="#111" stroke-width="1" fill="none"/>
<text class="ty" x="427.8" y="578.3" text-anchor="end">0</text>
<text class="ty" x="429.5" y="561.9" text-anchor="end">1000</text>
<text class="ty" x="429.5" y="545.5" text-anchor="end">2000</text>
<text class="ty" x="429.5" y="529.1" text-anchor="end">3000</text>
<text class="ty" x="429.5" y="512.7" text-anchor="end">4000</text>
<text class="ty" x="429.5" y="496.3" text-anchor="end">5000</text>
<text class="ty" x="429.5" y="479.9" text-anchor="end">6000</text>
<text class="ty" x="429.5" y="463.5" text-anchor="end">7000</text>
<text class="ty" x="429.5" y="447.1" text-anchor="end">8000</text>
<path d="M432.5 574.9H434.5M432.5 558.5H434.5M432.5 542.1H434.5M432.5 525.7H434.5M432.5 509.3H434.5M432.5 492.9H434.5M432.5 476.5H434.5M432.5 460.1H434.5M432.5 443.7H434.5" stroke="#111" stroke-width="1" fill="none"/>
<path d="M437.81 574.9v1.9M441.71 574.9v1.9M445.61 574.9v1.9M449.5 574.9v1.9M457.3 574.9v1.9M461.19 574.9v1.9M465.09 574.9v1.9M468.99 574.9v1.9M476.78 574.9v1.9M480.68 574.9v1.9M484.57 574.9v1.9M488.47 574.9v1.9M496.26 574.9v1.9M500.16 574.9v1.9M504.06 574.9v1.9M507.96 574.9v1.9M515.75 574.9v1.9M519.65 574.9v1.9M523.54 574.9v1.9M527.44 574.9v1.9M535.23 574.9v1.9M539.13 574.9v1.9M543.03 574.9v1.9M546.92 574.9v1.9M554.72 574.9v1.9M558.61 574.9v1.9M562.51 574.9v1.9M566.41 574.9v1.9M574.2 574.9v1.9M578.1 574.9v1.9M581.99 574.9v1.9M585.89 574.9v1.9M593.68 574.9v1.9M597.58 574.9v1.9M601.48 574.9v1.9M605.38 574.9v1.9M613.17 574.9v1.9M617.07 574.9v1.9M620.96 574.9v1.9M624.86 574.9v1.9M632.65 574.9v1.9M636.55 574.9v1.9M640.45 574.9v1.9M644.34 574.9v1.9M652.14 574.9v1.9M656.03 574.9v1.9M659.93 574.9v1.9M663.83 574.9v1.9M671.62 574.9v1.9M675.52 574.9v1.9M679.41 574.9v1.9M683.31 574.9v1.9M691.1 574.9v1.9M695 574.9v1.9M698.9 574.9v1.9M702.8 574.9v1.9M710.59 574.9v1.9M714.49 574.9v1.9M718.38 574.9v1.9M722.28 574.9v1.9M730.07 574.9v1.9M733.97 574.9v1.9M737.87 574.9v1.9M741.76 574.9v1.9" stroke="#111" stroke-width="1.1" fill="none"/>
<path d="M453.4 574.9v3.7M472.88 574.9v3.7M492.37 574.9v3.7M511.85 574.9v3.7M531.34 574.9v3.7M550.82 574.9v3.7M570.3 574.9v3.7M589.79 574.9v3.7M609.27 574.9v3.7M628.76 574.9v3.7M648.24 574.9v3.7M667.72 574.9v3.7M687.21 574.9v3.7M706.69 574.9v3.7M726.18 574.9v3.7M745.66 574.9v3.7" stroke="#111" stroke-width="1.25" fill="none"/>
<text class="t10" x="454.2" y="590" text-anchor="middle">50</text>
<text class="t10" x="473.68" y="590" text-anchor="middle">60</text>
<text class="t10" x="493.17" y="590" text-anchor="middle">70</text>
<text class="t10" x="512.65" y="590" text-anchor="middle">80</text>
<text class="t10" x="532.14" y="590" text-anchor="middle">90</text>
<text class="t10" x="552.32" y="590" text-anchor="middle">100</text>
<text class="t10" x="571.8" y="590" text-anchor="middle">110</text>
<text class="t10" x="591.29" y="590" text-anchor="middle">120</text>
<text class="t10" x="610.77" y="590" text-anchor="middle">130</text>
<text class="t10" x="630.26" y="590" text-anchor="middle">140</text>
<text class="t10" x="649.74" y="590" text-anchor="middle">150</text>
<text class="t10" x="669.22" y="590" text-anchor="middle">160</text>
<text class="t10" x="688.71" y="590" text-anchor="middle">170</text>
<text class="t10" x="708.19" y="590" text-anchor="middle">180</text>
<text class="t10" x="727.68" y="590" text-anchor="middle">190</text>
<text class="mz" x="413.2" y="590">m/z-<tspan dx="0.6">-</tspan><tspan dx="0.3">&gt;</tspan></text>
<text class="t10" x="381.6" y="415.6">Abundance</text>
<text class="b" x="443" y="423.9">f</text>
<path d="M454.08 574.9v-2M455.64 574.9v-4M457.59 574.9v-1.3M459.54 574.9v-13.1M461.49 574.9v-2.7M463.43 574.9v-39M465.38 574.9v-6M467.33 574.9v-16.7M469.28 574.9v-2.7M479.02 574.9v-1M482.92 574.9v-5M484.28 574.9v-1.3M486.62 574.9v-26M487.2 574.9v-26M488.76 574.9v-11.8M490.71 574.9v-25.8M492.66 574.9v-10M494.61 574.9v-13.4M496.56 574.9v-8M498.51 574.9v-0.8M506.3 574.9v-13.8M508.25 574.9v-2M510.2 574.9v-24M512.14 574.9v-3.3M514.09 574.9v-39.1M516.04 574.9v-14.7M517.99 574.9v-22M519.94 574.9v-20.2M521.89 574.9v-16M523.83 574.9v-8M525.78 574.9v-1.3M533.58 574.9v-19.1M535.53 574.9v-5.3M537.47 574.9v-25.1M539.42 574.9v-16.7M541.37 574.9v-38.4M543.32 574.9v-19.4M545.27 574.9v-35.4M547.22 574.9v-13.1M549.16 574.9v-8.3M551.11 574.9v-5M553.06 574.9v-2M556.96 574.9v-1M560.85 574.9v-13.4M562.8 574.9v-6.7M564.75 574.9v-15.1M566.7 574.9v-18.3M568.65 574.9v-50.5M570.6 574.9v-29.1M572.54 574.9v-29.4M574.49 574.9v-57.1M576.44 574.9v-12M578.39 574.9v-1.3M580.34 574.9v-3M584.24 574.9v-2.7M586.18 574.9v-1.7M588.13 574.9v-10.3M590.08 574.9v-4M592.03 574.9v-16.7M593.98 574.9v-14.3M595.93 574.9v-23.1M597.87 574.9v-26.1M599.82 574.9v-16M601.77 574.9v-25.4M603.72 574.9v-15.4M605.67 574.9v-23.4M607.62 574.9v-3.3M611.51 574.9v-1.3M613.46 574.9v-1.7M615.41 574.9v-11.4M617.36 574.9v-7.4M619.31 574.9v-5.3M621.25 574.9v-12M623.2 574.9v-19.4M625.15 574.9v-12M627.1 574.9v-6.3M631 574.9v-7.1M632.95 574.9v-1.3M634.89 574.9v-1M638.79 574.9v-1.3M642.69 574.9v-22.1M644.64 574.9v-3M646.58 574.9v-2M648.53 574.9v-3M650.48 574.9v-6M652.43 574.9v-8M654.38 574.9v-2M658.27 574.9v-2M669.96 574.9v-1M671.91 574.9v-37.4M673.86 574.9v-7.1M677.76 574.9v-156.9M679.71 574.9v-23.3M703.09 574.9v-4M706.98 574.9v-25.1M708.93 574.9v-6.3M710.88 574.9v-1M712.83 574.9v-1.3M739.13 574.9v-2M742.06 574.9v-3" stroke="#333" stroke-width="1.4" fill="none"/>
<text class="pk" x="678.85" y="426.6">165</text>
<text class="pk" x="575.85" y="525.6">112</text>
<text class="pk" x="644.15" y="561.1">147</text>
<text class="pk" x="708.25" y="557.3">180</text>
<text class="t9" x="446.8" y="451.7">SBR3-tpnb</text>
<text class="t9" x="446.8" y="460.9">10.17 min</text>
</g>
<g id="panel-g">
<path d="M54.1 623.6V781.3" fill="none" stroke="#111" stroke-width="1.1"/>
<path d="M53.55 780.7H365.98" fill="none" stroke="#111" stroke-width="1.3"/>
<path d="M52.7 778.66H54M52.7 776.62H54M52.7 774.58H54M52.7 772.54H54M52.7 768.45H54M52.7 766.41H54M52.7 764.37H54M52.7 762.33H54M52.7 758.25H54M52.7 756.21H54M52.7 754.17H54M52.7 752.13H54M52.7 748.04H54M52.7 746H54M52.7 743.96H54M52.7 741.92H54M52.7 737.84H54M52.7 735.8H54M52.7 733.76H54M52.7 731.72H54M52.7 727.63H54M52.7 725.59H54M52.7 723.55H54M52.7 721.51H54M52.7 717.43H54M52.7 715.39H54M52.7 713.35H54M52.7 711.31H54M52.7 707.22H54M52.7 705.18H54M52.7 703.14H54M52.7 701.1H54M52.7 697.02H54M52.7 694.98H54M52.7 692.94H54M52.7 690.9H54M52.7 686.81H54M52.7 684.77H54M52.7 682.73H54M52.7 680.69H54M52.7 676.61H54M52.7 674.57H54M52.7 672.53H54M52.7 670.49H54M52.7 666.4H54M52.7 664.36H54M52.7 662.32H54M52.7 660.28H54M52.7 656.2H54M52.7 654.16H54M52.7 652.12H54M52.7 650.08H54M52.7 645.99H54M52.7 643.95H54M52.7 641.91H54M52.7 639.87H54M52.7 635.79H54M52.7 633.75H54M52.7 631.71H54M52.7 629.67H54M52.7 625.58H54" stroke="#111" stroke-width="1" fill="none"/>
<path d="M52.3 770.5H54M52.3 750.09H54M52.3 729.68H54M52.3 709.27H54M52.3 688.86H54M52.3 668.45H54M52.3 648.04H54M52.3 627.63H54" stroke="#111" stroke-width="1" fill="none"/>
<text class="ty" x="47.5" y="784.1" text-anchor="end">0</text>
<text class="ty" x="49" y="763.69" text-anchor="end">40000</text>
<text class="ty" x="49" y="743.28" text-anchor="end">80000</text>
<text class="ty" x="49" y="722.87" text-anchor="end">120000</text>
<text class="ty" x="49" y="702.46" text-anchor="end">160000</text>
<text class="ty" x="49" y="682.05" text-anchor="end">200000</text>
<text class="ty" x="49" y="661.64" text-anchor="end">240000</text>
<text class="ty" x="49" y="641.23" text-anchor="end">280000</text>
<path d="M52 780.7H54M52 760.29H54M52 739.88H54M52 719.47H54M52 699.06H54M52 678.65H54M52 658.24H54M52 637.83H54" stroke="#111" stroke-width="1" fill="none"/>
<path d="M57.42 780.7v1.9M61.31 780.7v1.9M65.21 780.7v1.9M69.1 780.7v1.9M76.9 780.7v1.9M80.79 780.7v1.9M84.69 780.7v1.9M88.58 780.7v1.9M96.38 780.7v1.9M100.27 780.7v1.9M104.17 780.7v1.9M108.06 780.7v1.9M115.86 780.7v1.9M119.75 780.7v1.9M123.65 780.7v1.9M127.54 780.7v1.9M135.34 780.7v1.9M139.23 780.7v1.9M143.13 780.7v1.9M147.02 780.7v1.9M154.82 780.7v1.9M158.71 780.7v1.9M162.61 780.7v1.9M166.5 780.7v1.9M174.3 780.7v1.9M178.19 780.7v1.9M182.09 780.7v1.9M185.98 780.7v1.9M193.78 780.7v1.9M197.67 780.7v1.9M201.57 780.7v1.9M205.46 780.7v1.9M213.26 780.7v1.9M217.15 780.7v1.9M221.05 780.7v1.9M224.94 780.7v1.9M232.74 780.7v1.9M236.63 780.7v1.9M240.53 780.7v1.9M244.42 780.7v1.9M252.22 780.7v1.9M256.11 780.7v1.9M260.01 780.7v1.9M263.9 780.7v1.9M271.7 780.7v1.9M275.59 780.7v1.9M279.49 780.7v1.9M283.38 780.7v1.9M291.18 780.7v1.9M295.07 780.7v1.9M298.97 780.7v1.9M302.86 780.7v1.9M310.66 780.7v1.9M314.55 780.7v1.9M318.45 780.7v1.9M322.34 780.7v1.9M330.14 780.7v1.9M334.03 780.7v1.9M337.93 780.7v1.9M341.82 780.7v1.9M349.62 780.7v1.9M353.51 780.7v1.9M357.41 780.7v1.9M361.3 780.7v1.9" stroke="#111" stroke-width="1.1" fill="none"/>
<path d="M73 780.7v3.7M92.48 780.7v3.7M111.96 780.7v3.7M131.44 780.7v3.7M150.92 780.7v3.7M170.4 780.7v3.7M189.88 780.7v3.7M209.36 780.7v3.7M228.84 780.7v3.7M248.32 780.7v3.7M267.8 780.7v3.7M287.28 780.7v3.7M306.76 780.7v3.7M326.24 780.7v3.7M345.72 780.7v3.7M365.2 780.7v3.7" stroke="#111" stroke-width="1.25" fill="none"/>
<text class="t10" x="73.8" y="796" text-anchor="middle">50</text>
<text class="t10" x="93.28" y="796" text-anchor="middle">60</text>
<text class="t10" x="112.76" y="796" text-anchor="middle">70</text>
<text class="t10" x="132.24" y="796" text-anchor="middle">80</text>
<text class="t10" x="151.72" y="796" text-anchor="middle">90</text>
<text class="t10" x="171.9" y="796" text-anchor="middle">100</text>
<text class="t10" x="191.38" y="796" text-anchor="middle">110</text>
<text class="t10" x="210.86" y="796" text-anchor="middle">120</text>
<text class="t10" x="230.34" y="796" text-anchor="middle">130</text>
<text class="t10" x="249.82" y="796" text-anchor="middle">140</text>
<text class="t10" x="269.3" y="796" text-anchor="middle">150</text>
<text class="t10" x="288.78" y="796" text-anchor="middle">160</text>
<text class="t10" x="308.26" y="796" text-anchor="middle">170</text>
<text class="t10" x="327.74" y="796" text-anchor="middle">180</text>
<text class="t10" x="347.22" y="796" text-anchor="middle">190</text>
<text class="mz" x="32.4" y="795">m/z-<tspan dx="0.6">-</tspan><tspan dx="0.3">&gt;</tspan></text>
<text class="t10" x="1.1" y="623.6">Abundance</text>
<text class="b" x="61.6" y="629.2">g</text>
<path d="M75.24 780.7v-1M79.14 780.7v-5.7M81.08 780.7v-1M83.03 780.7v-20M84.98 780.7v-4.3M86.93 780.7v-4.5M88.88 780.7v-0.8M102.51 780.7v-2.4M104.46 780.7v-1M106.41 780.7v-13.1M108.36 780.7v-4M110.3 780.7v-13.1M112.25 780.7v-3.3M114.2 780.7v-5M116.15 780.7v-3M125.89 780.7v-5M127.84 780.7v-1M129.78 780.7v-8M131.73 780.7v-1M133.68 780.7v-11M135.63 780.7v-5M137.58 780.7v-13.6M139.52 780.7v-8.4M141.47 780.7v-6.8M143.42 780.7v-1M153.16 780.7v-5M155.11 780.7v-1M157.06 780.7v-9M159 780.7v-3M160.95 780.7v-12.4M162.9 780.7v-9M164.85 780.7v-21.1M166.8 780.7v-3.7M168.74 780.7v-1M180.43 780.7v-1.3M184.33 780.7v-5M186.28 780.7v-3M188.22 780.7v-5M190.17 780.7v-3M194.07 780.7v-157.1M196.02 780.7v-13.1M198.94 780.7v-1M211.6 780.7v-3M215.5 780.7v-2.4M217.44 780.7v-1M219.39 780.7v-25.4M221.34 780.7v-22M223.29 780.7v-2M238.87 780.7v-3M244.72 780.7v-2M246.66 780.7v-2M266.14 780.7v-10M268.09 780.7v-1.3M295.36 780.7v-2M301.21 780.7v-3M330.43 780.7v-6.3" stroke="#333" stroke-width="1.4" fill="none"/>
<path d="M192.22 780.7v-34.5" stroke="#6a6a6a" stroke-width="2.3" fill="none"/>
<text class="pk" x="195.15" y="631.9">112</text>
<text class="pk" x="166.65" y="767.6">97</text>
<text class="pk" x="202.55" y="762.7">125</text>
<text class="pk" x="222.25" y="767">126</text>
<text class="pk" x="266.55" y="771.6">149</text>
<text class="pk" x="301.35" y="776.1">167</text>
<text class="pk" x="330.55" y="775">182</text>
<text class="t9" x="66.4" y="666.9">8.71 min</text>
<path d="M312.7 660.2L298.5 652.1L284.3 660.2L284.3 677.2L298.5 685.3L312.7 677.2ZM312.7 660.2L326.9 652.1L341.1 660.2L341.1 677.2L326.9 685.3L312.7 677.2" fill="none" stroke="#1c1c1c" stroke-width="1.15" stroke-linejoin="round" stroke-linecap="round"/>
<path d="M312.08 658.23H313.32M311.87 656.27H313.53M311.65 654.3H313.75M311.43 652.33H313.97M311.22 650.37H314.18M311 648.4H314.4" fill="none" stroke="#1c1c1c" stroke-width="1.0"/>
<path d="M298.5 685.3L297 697.3H300Z" fill="#1c1c1c" stroke="#1c1c1c" stroke-width="0.3"/>
<path d="M312.7 677.2L312.2 688.8L315.3 688.4Z" fill="#1c1c1c" stroke="#1c1c1c" stroke-width="0.3"/>
<text class="ch" x="310.1" y="698.2">OH</text>

<text class="nm" x="292.3" y="714.8">(-)-geosmin</text>
</g>
<g id="panel-h">
<path d="M434.6 623.2V781.3" fill="none" stroke="#111" stroke-width="1.1"/>
<path d="M434.05 780.7H746.58" fill="none" stroke="#111" stroke-width="1.3"/>
<path d="M433.2 776.96H434.5M433.2 773.22H434.5M433.2 769.48H434.5M433.2 765.74H434.5M433.2 758.26H434.5M433.2 754.52H434.5M433.2 750.78H434.5M433.2 747.04H434.5M433.2 739.56H434.5M433.2 735.82H434.5M433.2 732.08H434.5M433.2 728.34H434.5M433.2 720.86H434.5M433.2 717.12H434.5M433.2 713.38H434.5M433.2 709.64H434.5M433.2 702.16H434.5M433.2 698.42H434.5M433.2 694.68H434.5M433.2 690.94H434.5M433.2 683.46H434.5M433.2 679.72H434.5M433.2 675.98H434.5M433.2 672.24H434.5M433.2 664.76H434.5M433.2 661.02H434.5M433.2 657.28H434.5M433.2 653.54H434.5M433.2 646.06H434.5M433.2 642.32H434.5M433.2 638.58H434.5M433.2 634.84H434.5M433.2 627.36H434.5M433.2 623.62H434.5" stroke="#111" stroke-width="1" fill="none"/>
<text class="ty" x="428.2" y="784.1" text-anchor="end">0</text>
<text class="ty" x="429.5" y="765.4" text-anchor="end">1000</text>
<text class="ty" x="429.5" y="746.7" text-anchor="end">2000</text>
<text class="ty" x="429.5" y="728" text-anchor="end">3000</text>
<text class="ty" x="429.5" y="709.3" text-anchor="end">4000</text>
<text class="ty" x="429.5" y="690.6" text-anchor="end">5000</text>
<text class="ty" x="429.5" y="671.9" text-anchor="end">6000</text>
<text class="ty" x="429.5" y="653.2" text-anchor="end">7000</text>
<text class="ty" x="429.5" y="634.5" text-anchor="end">8000</text>
<path d="M432.5 780.7H434.5M432.5 762H434.5M432.5 743.3H434.5M432.5 724.6H434.5M432.5 705.9H434.5M432.5 687.2H434.5M432.5 668.5H434.5M432.5 649.8H434.5M432.5 631.1H434.5" stroke="#111" stroke-width="1" fill="none"/>
<path d="M436.75 780.7v1.9M440.66 780.7v1.9M444.58 780.7v1.9M448.49 780.7v1.9M456.31 780.7v1.9M460.22 780.7v1.9M464.14 780.7v1.9M468.05 780.7v1.9M475.87 780.7v1.9M479.78 780.7v1.9M483.7 780.7v1.9M487.61 780.7v1.9M495.43 780.7v1.9M499.34 780.7v1.9M503.26 780.7v1.9M507.17 780.7v1.9M514.99 780.7v1.9M518.9 780.7v1.9M522.82 780.7v1.9M526.73 780.7v1.9M534.55 780.7v1.9M538.46 780.7v1.9M542.38 780.7v1.9M546.29 780.7v1.9M554.11 780.7v1.9M558.02 780.7v1.9M561.94 780.7v1.9M565.85 780.7v1.9M573.67 780.7v1.9M577.58 780.7v1.9M581.5 780.7v1.9M585.41 780.7v1.9M593.23 780.7v1.9M597.14 780.7v1.9M601.06 780.7v1.9M604.97 780.7v1.9M612.79 780.7v1.9M616.7 780.7v1.9M620.62 780.7v1.9M624.53 780.7v1.9M632.35 780.7v1.9M636.26 780.7v1.9M640.18 780.7v1.9M644.09 780.7v1.9M651.91 780.7v1.9M655.82 780.7v1.9M659.74 780.7v1.9M663.65 780.7v1.9M671.47 780.7v1.9M675.38 780.7v1.9M679.3 780.7v1.9M683.21 780.7v1.9M691.03 780.7v1.9M694.94 780.7v1.9M698.86 780.7v1.9M702.77 780.7v1.9M710.59 780.7v1.9M714.5 780.7v1.9M718.42 780.7v1.9M722.33 780.7v1.9M730.15 780.7v1.9M734.06 780.7v1.9M737.98 780.7v1.9M741.89 780.7v1.9" stroke="#111" stroke-width="1.1" fill="none"/>
<path d="M452.4 780.7v3.7M471.96 780.7v3.7M491.52 780.7v3.7M511.08 780.7v3.7M530.64 780.7v3.7M550.2 780.7v3.7M569.76 780.7v3.7M589.32 780.7v3.7M608.88 780.7v3.7M628.44 780.7v3.7M648 780.7v3.7M667.56 780.7v3.7M687.12 780.7v3.7M706.68 780.7v3.7M726.24 780.7v3.7M745.8 780.7v3.7" stroke="#111" stroke-width="1.25" fill="none"/>
<text class="t10" x="453.2" y="796" text-anchor="middle">50</text>
<text class="t10" x="472.76" y="796" text-anchor="middle">60</text>
<text class="t10" x="492.32" y="796" text-anchor="middle">70</text>
<text class="t10" x="511.88" y="796" text-anchor="middle">80</text>
<text class="t10" x="531.44" y="796" text-anchor="middle">90</text>
<text class="t10" x="551.7" y="796" text-anchor="middle">100</text>
<text class="t10" x="571.26" y="796" text-anchor="middle">110</text>
<text class="t10" x="590.82" y="796" text-anchor="middle">120</text>
<text class="t10" x="610.38" y="796" text-anchor="middle">130</text>
<text class="t10" x="629.94" y="796" text-anchor="middle">140</text>
<text class="t10" x="649.5" y="796" text-anchor="middle">150</text>
<text class="t10" x="669.06" y="796" text-anchor="middle">160</text>
<text class="t10" x="688.62" y="796" text-anchor="middle">170</text>
<text class="t10" x="708.18" y="796" text-anchor="middle">180</text>
<text class="t10" x="727.74" y="796" text-anchor="middle">190</text>
<text class="mz" x="413.2" y="796">m/z-<tspan dx="0.6">-</tspan><tspan dx="0.3">&gt;</tspan></text>
<text class="t10" x="381.6" y="621.5">Abundance</text>
<text class="b" x="441.1" y="630.3">h</text>
<path d="M454.69 780.7v-2.3M458.6 780.7v-7.9M460.56 780.7v-1.9M462.51 780.7v-24.1M464.47 780.7v-2.7M466.42 780.7v-12M468.38 780.7v-1M470.34 780.7v-1M482.07 780.7v-3M484.03 780.7v-1M485.98 780.7v-11.6M487.94 780.7v-6.7M489.9 780.7v-9.9M491.85 780.7v-2.7M493.81 780.7v-5.6M495.76 780.7v-1.9M497.72 780.7v-2.3M505.54 780.7v-6M507.5 780.7v-1M509.46 780.7v-7.2M511.41 780.7v-2.9M513.37 780.7v-12.9M515.32 780.7v-10M517.28 780.7v-15.6M519.24 780.7v-12.3M521.19 780.7v-17.1M523.15 780.7v-2.7M525.1 780.7v-6M527.06 780.7v-0.8M532.93 780.7v-8M534.88 780.7v-2M536.84 780.7v-7.1M538.8 780.7v-5.1M540.75 780.7v-14M542.71 780.7v-8.4M544.66 780.7v-31M546.62 780.7v-4.3M548.58 780.7v-1M550.53 780.7v-7.4M552.49 780.7v-1.7M556.4 780.7v-0.8M560.31 780.7v-5.6M562.27 780.7v-0.8M564.22 780.7v-4.3M566.18 780.7v-3.6M568.14 780.7v-11M570.09 780.7v-4M572.05 780.7v-5.3M574 780.7v-157.5M575.96 780.7v-23M577.92 780.7v-1M579.87 780.7v-1M587.7 780.7v-2.4M589.65 780.7v-2.7M591.61 780.7v-3M593.56 780.7v-3M595.52 780.7v-11M597.48 780.7v-10.3M599.43 780.7v-4M601.39 780.7v-1.3M605.3 780.7v-1.3M615.08 780.7v-2.4M618.99 780.7v-1M620.95 780.7v-1M622.9 780.7v-5.7M628.77 780.7v-1.3M632.68 780.7v-2.4M642.46 780.7v-7.4M650.29 780.7v-3.4M671.8 780.7v-3.1M677.67 780.7v-13.8M707.01 780.7v-22.7M708.97 780.7v-1.2" stroke="#333" stroke-width="1.4" fill="none"/>
<text class="pk" x="574.85" y="631.9">112</text>
<text class="pk" x="545.65" y="757.7">97</text>
<text class="pk" x="642.05" y="773.4">147</text>
<text class="pk" x="679.05" y="773.9">165</text>
<text class="pk" x="708.15" y="765.9">180</text>
<text class="t9" x="446.8" y="658.6">SBR3-tpnb</text>
<text class="t9" x="446.8" y="667.3">10.09 min</text>
</g>
</svg>
</body></html>
